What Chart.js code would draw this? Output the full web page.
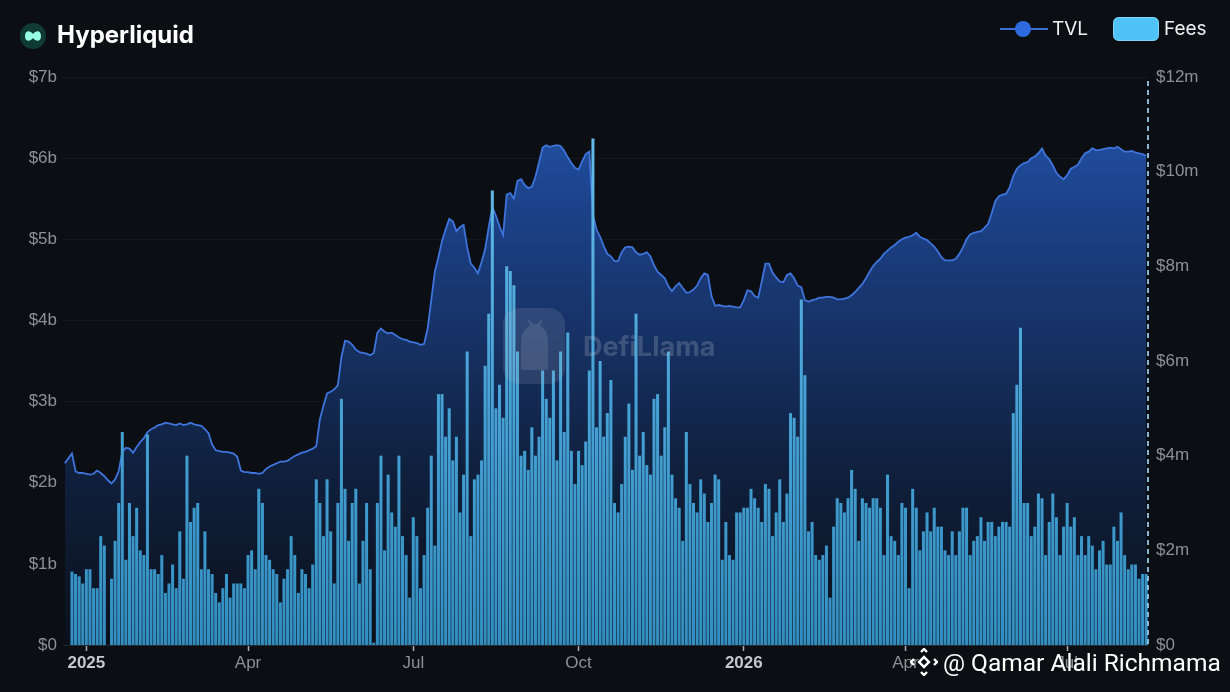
<!DOCTYPE html>
<html>
<head>
<meta charset="utf-8">
<title>Hyperliquid TVL and Fees</title>
<script src="https://cdn.jsdelivr.net/npm/chart.js@4.4.1/dist/chart.umd.min.js"></script>
<style>
  html, body { margin: 0; padding: 0; background: #0b0f13; }
  #wrap { position: relative; width: 1230px; height: 692px; overflow: hidden; background: #0b0f13; }
  #chart { position: absolute; left: 0; top: 0; }
  .title { position: absolute; left: 57px; top: 20px; font: 700 24px Inter, "Liberation Sans", sans-serif; color: #fff; }
  .logo { position: absolute; left: 20px; top: 23px; }
  .legend { position: absolute; top: 17px; font: 400 19px Inter, "Liberation Sans", sans-serif; color: #eef0f2; }
  .watermark { position: absolute; left: 503px; top: 308px; pointer-events: none; }
  .wm-text { position: absolute; left: 583px; top: 330px; font: 700 27px Inter, "Liberation Sans", sans-serif; color: rgba(190, 198, 214, 0.24); }
  .credit { position: absolute; left: 910px; top: 648px; font: 400 24.5px Roboto, "Noto Sans", sans-serif; color: #fff; white-space: nowrap; }
  .credit svg { vertical-align: -5px; margin-right: 5px; }
</style>
</head>
<body>
<div id="wrap">
  <canvas id="chart" width="1230" height="692"></canvas>

  <svg class="logo" width="26" height="26" viewBox="-13 -13 26 26">
    <circle r="13" fill="#0f3b34"/>
    <path d="M-8 0 C-8 -6 -3 -6 0 -2 C3 -6 8 -6 8 0 C8 6 3 6 0 2 C-3 6 -8 6 -8 0 Z" fill="#97fce4"/>
  </svg>
  <div class="title">Hyperliquid</div>

  <svg class="legend" style="left:1000px; top:18px" width="48" height="22">
    <line x1="0" y1="11" x2="48" y2="11" stroke="#3a6ed6" stroke-width="2"/>
    <circle cx="23" cy="11" r="8" fill="#2f6be0"/>
  </svg>
  <div class="legend" style="left:1052px">TVL</div>
  <svg class="legend" style="left:1113px; top:17px" width="46" height="24">
    <rect x="0.5" y="0.5" width="45" height="23" rx="5" fill="#4fc3f7" stroke="#7fd4fa"/>
  </svg>
  <div class="legend" style="left:1164px">Fees</div>

  <svg class="watermark" width="64" height="76">
    <rect x="0" y="0" width="62" height="76" rx="16" fill="rgba(190,198,214,0.14)"/>
    <path d="M18 62 L18 34 C18 26 22 20 27 18 L24 10 L30 16 L34 16 L40 10 L37 18 C42 20 45 26 45 34 L45 62 Z" fill="rgba(190,198,214,0.16)"/>
  </svg>
  <div class="wm-text">DefiLlama</div>

  <div class="credit">
    <svg width="28" height="28" viewBox="-14 -14 28 28">
      <g fill="none" stroke="#fff" stroke-width="2.4">
        <rect x="-3.5" y="-3.5" width="7" height="7" transform="rotate(45)"/>
        <path d="M-10 -3 L-13 0 L-10 3 M10 -3 L13 0 L10 3 M-3 -10 L0 -13 L3 -10 M-3 10 L0 13 L3 10"/>
      </g>
    </svg>@ Qamar Alali Richmama
  </div>
</div>

<script>
// ---------------- DATA ----------------
// one point every 2 days, starting 2024-12-20
const startDate = Date.UTC(2024, 11, 20);
const stepDays = 2;

// TVL in $ billions
const tvlBillions = [
  2.24, 2.30, 2.36, 2.14, 2.12, 2.12, 2.11, 2.10, 2.11, 2.15,
  2.12, 2.08, 2.03, 1.99, 2.04, 2.14, 2.38, 2.43, 2.42, 2.37,
  2.44, 2.50, 2.55, 2.62, 2.66, 2.68, 2.71, 2.72, 2.74, 2.73,
  2.72, 2.71, 2.73, 2.71, 2.72, 2.74, 2.72, 2.71, 2.70, 2.66,
  2.61, 2.47, 2.40, 2.39, 2.38, 2.38, 2.37, 2.36, 2.32, 2.15,
  2.13, 2.13, 2.12, 2.12, 2.11, 2.12, 2.17, 2.20, 2.22, 2.24,
  2.26, 2.26, 2.27, 2.30, 2.33, 2.35, 2.37, 2.38, 2.40, 2.42,
  2.45, 2.78, 2.95, 3.10, 3.12, 3.15, 3.20, 3.55, 3.75, 3.74,
  3.70, 3.64, 3.61, 3.60, 3.59, 3.57, 3.60, 3.85, 3.90, 3.86,
  3.84, 3.85, 3.82, 3.79, 3.77, 3.76, 3.74, 3.73, 3.72, 3.70,
  3.71, 3.90, 4.25, 4.60, 4.78, 4.98, 5.12, 5.25, 5.22, 5.10,
  5.15, 5.18, 4.90, 4.70, 4.65, 4.58, 4.72, 4.88, 5.15, 5.40,
  5.29, 5.16, 5.05, 5.55, 5.57, 5.50, 5.72, 5.74, 5.67, 5.63,
  5.65, 5.77, 5.95, 6.13, 6.16, 6.14, 6.15, 6.16, 6.15, 6.09,
  6.01, 5.94, 5.88, 5.86, 5.96, 6.05, 6.08, 5.30, 5.12, 5.03,
  4.92, 4.82, 4.79, 4.73, 4.73, 4.84, 4.90, 4.91, 4.90, 4.84,
  4.81, 4.82, 4.84, 4.79, 4.68, 4.60, 4.56, 4.52, 4.42, 4.36,
  4.42, 4.46, 4.40, 4.34, 4.35, 4.38, 4.43, 4.52, 4.58, 4.56,
  4.30, 4.18, 4.19, 4.18, 4.17, 4.18, 4.17, 4.16, 4.16, 4.25,
  4.37, 4.36, 4.30, 4.28, 4.48, 4.70, 4.70, 4.59, 4.53, 4.48,
  4.47, 4.56, 4.58, 4.52, 4.43, 4.41, 4.25, 4.23, 4.25, 4.26,
  4.28, 4.28, 4.29, 4.29, 4.28, 4.26, 4.26, 4.27, 4.28, 4.31,
  4.35, 4.40, 4.45, 4.52, 4.60, 4.67, 4.72, 4.76, 4.82, 4.86,
  4.90, 4.93, 4.97, 5.00, 5.02, 5.03, 5.05, 5.08, 5.03, 5.01,
  4.99, 4.95, 4.91, 4.85, 4.78, 4.74, 4.74, 4.74, 4.76, 4.82,
  4.90, 5.00, 5.06, 5.08, 5.09, 5.10, 5.14, 5.19, 5.32, 5.47,
  5.53, 5.55, 5.56, 5.64, 5.78, 5.87, 5.91, 5.94, 5.95, 6.00,
  6.02, 6.06, 6.12, 6.03, 5.99, 5.91, 5.82, 5.77, 5.74, 5.79,
  5.87, 5.89, 5.92, 6.00, 6.06, 6.08, 6.12, 6.10, 6.10, 6.11,
  6.12, 6.13, 6.12, 6.14, 6.11, 6.08, 6.08, 6.09, 6.07, 6.06,
  6.05, 6.03
];

// Fees in $ millions
const feesMillions = [
  0, 0, 1.55, 1.5, 1.45, 1.3, 1.6, 1.6, 1.2, 1.2,
  2.3, 2.1, 0, 1.4, 2.2, 3.0, 4.5, 1.8, 3.0, 2.3,
  2.9, 2.0, 1.9, 4.45, 1.6, 1.6, 1.5, 1.9, 1.1, 1.3,
  1.7, 1.2, 2.4, 1.4, 4.0, 2.6, 2.9, 3.0, 1.6, 2.4,
  1.6, 1.5, 1.1, 0.9, 1.2, 1.5, 1.0, 1.3, 1.3, 1.3,
  1.2, 1.9, 2.0, 1.6, 3.3, 3.0, 1.9, 1.8, 1.6, 1.5,
  0.9, 1.4, 1.6, 2.3, 1.9, 1.1, 1.6, 1.5, 1.2, 1.7,
  3.5, 3.0, 2.3, 3.5, 2.4, 1.3, 3.0, 5.2, 3.3, 2.2,
  3.0, 3.3, 1.3, 2.2, 3.0, 1.6, 0.05, 3.0, 4.0, 2.0,
  3.6, 2.8, 2.5, 4.0, 2.3, 1.9, 1.0, 2.7, 2.3, 1.2,
  1.9, 2.9, 4.0, 2.1, 5.3, 5.3, 4.4, 5.0, 3.9, 4.4,
  2.8, 3.6, 6.2, 2.3, 3.5, 3.6, 3.9, 5.9, 7.0, 9.6,
  5.0, 5.5, 4.8, 8.0, 7.9, 7.6, 6.2, 4.0, 4.1, 3.7,
  4.6, 4.0, 4.4, 5.8, 5.2, 4.8, 5.8, 3.9, 6.2, 4.5,
  6.6, 4.1, 3.4, 4.1, 3.8, 4.3, 5.8, 10.7, 4.6, 6.0,
  4.4, 4.9, 5.6, 3.0, 2.8, 3.4, 4.4, 5.1, 3.7, 7.0,
  4.0, 4.5, 3.8, 3.6, 5.2, 5.3, 4.0, 4.6, 6.2, 3.6,
  3.1, 2.9, 2.2, 4.5, 3.4, 3.0, 2.8, 3.5, 3.2, 2.6,
  3.0, 3.6, 3.5, 1.8, 2.6, 1.9, 1.8, 2.8, 2.8, 2.9,
  2.9, 3.3, 3.1, 2.9, 2.6, 3.4, 3.3, 2.3, 2.8, 3.5,
  2.6, 3.2, 4.9, 4.8, 4.4, 7.3, 5.7, 2.4, 2.6, 1.9,
  1.8, 1.9, 2.1, 1.0, 2.5, 3.1, 3.0, 2.8, 3.1, 3.7,
  3.3, 2.2, 3.1, 3.0, 2.9, 3.1, 3.1, 2.9, 1.9, 3.6,
  2.3, 2.2, 1.9, 3.0, 2.9, 1.2, 3.3, 2.9, 2.0, 2.4,
  2.8, 2.4, 2.9, 2.5, 2.5, 2.0, 1.9, 2.4, 1.9, 2.4,
  2.9, 2.9, 1.9, 2.2, 2.3, 2.7, 2.2, 2.6, 2.6, 2.3,
  2.5, 2.6, 2.6, 2.5, 4.9, 5.5, 6.7, 3.0, 3.0, 2.3,
  2.5, 3.2, 3.1, 1.9, 2.6, 3.2, 2.7, 1.9, 2.5, 3.0,
  2.5, 2.7, 1.9, 2.3, 1.9, 2.3, 2.1, 1.6, 2.0, 2.2,
  1.7, 1.7, 2.5, 2.2, 2.8, 1.9, 1.6, 1.7, 1.7, 1.4,
  1.5, 1.5
];

// x axis: one label at the start of each quarter
const quarterStarts = ["2025-01-01", "2025-04-01", "2025-07-01", "2025-10-01", "2026-01-01", "2026-04-01", "2026-07-01"];
const quarterLabels = ["2025", "Apr", "Jul", "Oct", "2026", "Apr", "Jul"];
const yearLabels = ["2025", "2026"];

// y axis tick labels
const tvlTickLabels = ["$0", "$1b", "$2b", "$3b", "$4b", "$5b", "$6b", "$7b"];
const feesTickLabels = ["$0", "$2m", "$4m", "$6m", "$8m", "$10m", "$12m"];

// ---------------- LABELS ----------------
const labels = tvlBillions.map((_, i) =>
  new Date(startDate + i * stepDays * 86400000).toISOString().slice(0, 10)
);

// first point on or after each quarter start
const quarterIndex = {};
quarterStarts.forEach((q, k) => {
  const idx = labels.findIndex(d => d >= q);
  if (idx >= 0) quarterIndex[idx] = quarterLabels[k];
});

// ---------------- GRADIENTS ----------------
function tvlFill(ctx) {
  const { chart } = ctx;
  const area = chart.chartArea;
  if (!area) return "rgba(30,70,150,0.6)";
  const g = chart.ctx.createLinearGradient(0, area.top, 0, area.bottom);
  g.addColorStop(0, "rgba(38,90,185,0.95)");
  g.addColorStop(0.3, "rgba(28,66,138,0.9)");
  g.addColorStop(0.7, "rgba(16,34,66,0.9)");
  g.addColorStop(1, "rgba(11,17,28,0.9)");
  return g;
}

function feesFill(ctx) {
  const { chart } = ctx;
  const area = chart.chartArea;
  if (!area) return "#3a9bd0";
  const g = chart.ctx.createLinearGradient(0, area.top, 0, area.bottom);
  g.addColorStop(0, "#6cc0ec");
  g.addColorStop(0.5, "#4aa6d8");
  g.addColorStop(1, "#338fc2");
  return g;
}

// ---------------- DASHED CURSOR LINE ON RIGHT EDGE ----------------
const rightDash = {
  id: "rightDash",
  afterDraw(chart) {
    const { ctx, chartArea } = chart;
    ctx.save();
    ctx.strokeStyle = "rgba(150,200,232,0.9)";
    ctx.lineWidth = 2;
    ctx.setLineDash([5, 4]);
    ctx.beginPath();
    ctx.moveTo(chartArea.right, chartArea.top + 4);
    ctx.lineTo(chartArea.right, chartArea.bottom);
    ctx.stroke();
    ctx.restore();
  }
};

// ---------------- CHART ----------------
const tickFont = { family: "'Liberation Sans', Arial, sans-serif", size: 17 };

new Chart(document.getElementById("chart"), {
  data: {
    labels: labels,
    datasets: [
      {
        type: "bar",
        label: "Fees",
        data: feesMillions,
        yAxisID: "yFees",
        backgroundColor: feesFill,
        borderWidth: 0,
        barPercentage: 1,
        categoryPercentage: 0.84,
        order: 1
      },
      {
        type: "line",
        label: "TVL",
        data: tvlBillions,
        yAxisID: "yTvl",
        borderColor: "#3f74dc",
        borderWidth: 1.8,
        pointRadius: 0,
        tension: 0,
        fill: "origin",
        backgroundColor: tvlFill,
        order: 2
      }
    ]
  },
  options: {
    responsive: false,
    animation: false,
    devicePixelRatio: 1,
    layout: { padding: { top: 77, left: 0, right: 0, bottom: 0 } },
    plugins: {
      legend: { display: false },
      tooltip: { enabled: false }
    },
    scales: {
      x: {
        type: "category",
        offset: true,
        afterFit: (scale) => { scale.height = 47; },
        afterBuildTicks: (scale) => {
          scale.ticks = scale.ticks.filter(t => quarterIndex[t.value] !== undefined);
        },
        grid: {
          display: true,
          offset: false,
          drawOnChartArea: false,
          drawTicks: true,
          tickLength: 6,
          tickColor: "#a9aeb4",
          tickWidth: 1.5
        },
        border: { display: true, color: "rgba(255,255,255,0.08)" },
        ticks: {
          autoSkip: false,
          maxRotation: 0,
          padding: 2,
          callback: (value) => quarterIndex[value],
          color: (ctx) => yearLabels.includes(ctx.tick.label) ? "#c4c8cd" : "#8b9096",
          font: (ctx) => ({
            family: tickFont.family,
            size: tickFont.size,
            weight: yearLabels.includes(ctx.tick && ctx.tick.label) ? "bold" : "normal"
          })
        }
      },
      yTvl: {
        position: "left",
        min: 0,
        max: 7,
        afterFit: (scale) => { scale.width = 63; },
        ticks: {
          stepSize: 1,
          padding: 6,
          color: "#8b9096",
          font: tickFont,
          callback: (v) => tvlTickLabels[v]
        },
        grid: { color: "rgba(255,255,255,0.045)", drawTicks: false },
        border: { display: false }
      },
      yFees: {
        position: "right",
        min: 0,
        max: 12,
        afterFit: (scale) => { scale.width = 82; },
        ticks: {
          stepSize: 2,
          padding: 8,
          color: "#8b9096",
          font: tickFont,
          callback: (v) => feesTickLabels[v / 2]
        },
        grid: { display: false, drawTicks: false },
        border: { display: false }
      }
    }
  },
  plugins: [rightDash]
});
</script>
</body>
</html>
